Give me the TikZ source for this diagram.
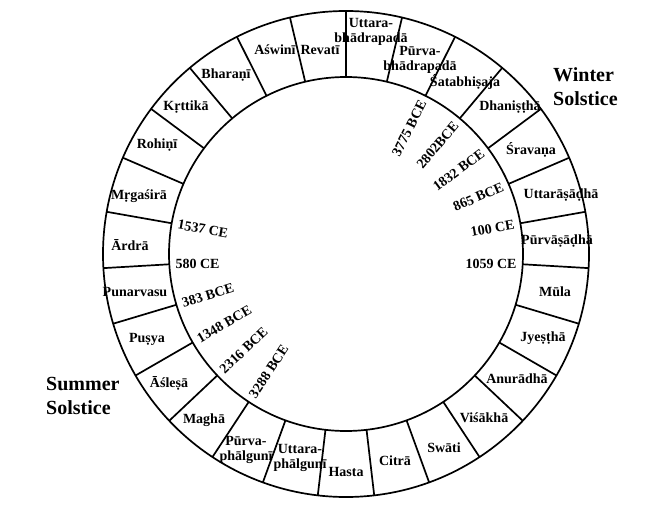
\documentclass[tikz,border=0pt]{standalone}
\usepackage{fontspec}
\setmainfont{Liberation Serif}
\usetikzlibrary{calc}
\begin{document}
\begin{tikzpicture}[x=1pt,y=-1pt,
  ring/.style={line width=1.7pt},
  spoke/.style={line width=1.7pt},
  nak/.style={inner sep=0pt,font=\bfseries\fontsize{14}{15}\selectfont,align=center},
  date/.style={inner sep=0pt,font=\bfseries\fontsize{14}{15}\selectfont},
  season/.style={inner sep=0pt,font=\bfseries\fontsize{20}{24}\selectfont,align=left,anchor=west}]
\useasboundingbox (0,0) rectangle (647,510);
\coordinate (C) at (346,254);
\draw[ring] (C) circle[radius=243pt];
\draw[ring] (C) circle[radius=177pt];
\foreach \k in {0,...,26}{
  \pgfmathsetmacro{\a}{90-\k*360/27}
  \coordinate (in\k) at ($(C)+(\a:177pt)$);
  \coordinate (out\k) at ($(C)+(\a:243pt)$);
  \draw[spoke] (in\k) -- (out\k);
}
% nakshatras
\node[nak] (n1) at (371,32) {Uttara-\\bhādrapadā};
\node[nak] (n2) at (420,60) {Pūrva-\\bhādrapadā};
\node[nak] (n3) at (465,82) {Śatabhiṣaja};
\node[nak] (n4) at (510,107) {Dhaniṣṭhā};
\node[nak] (n5) at (531,150) {Śravaṇa};
\node[nak] (n6) at (561,195) {Uttarāṣāḍhā};
\node[nak] (n7) at (557,241) {Pūrvāṣāḍhā};
\node[nak] (n8) at (555,292) {Mūla};
\node[nak] (n9) at (543,338) {Jyeṣṭhā};
\node[nak] (n10) at (517,379) {Anurādhā};
\node[nak] (n11) at (484,418) {Viśākhā};
\node[nak] (n12) at (444,448) {Swāti};
\node[nak] (n13) at (395,461) {Citrā};
\node[nak] (n14) at (346,472) {Hasta};
\node[nak] (n15) at (300,458) {Uttara-\\phālgunī};
\node[nak] (n16) at (246,450) {Pūrva-\\phālgunī};
\node[nak] (n17) at (204,420) {Maghā};
\node[nak] (n18) at (169,383) {Āśleṣā};
\node[nak] (n19) at (147,339) {Puṣya};
\node[nak] (n20) at (135,292) {Punarvasu};
\node[nak] (n21) at (130,245) {Ārdrā};
\node[nak] (n22) at (139,196) {Mṛgaśirā};
\node[nak] (n23) at (157,145) {Rohiṇī};
\node[nak] (n24) at (186,107) {Kṛttikā};
\node[nak] (n25) at (226,75) {Bharaṇī};
\node[nak] (n26) at (275,50) {Aświnī};
\node[nak] (n27) at (320,50) {Revatī};
% seasons
\node[season] (win) at (553,87) {Winter\\Solstice};
\node[season] (sum) at (46,396) {Summer\\Solstice};
% dates right
\node[date,anchor=east] (d1) at ($(C)+(-3.33:171pt)$) {1059 CE};
\node[date,anchor=east,rotate=10] (d2) at ($(C)+(10:171pt)$) {100 CE};
\node[date,anchor=east,rotate=23.33] (d3) at ($(C)+(23.33:171pt)$) {865 BCE};
\node[date,anchor=east,rotate=36.67] (d4) at ($(C)+(36.67:171pt)$) {1832 BCE};
\node[date,anchor=east,rotate=50] (d5) at ($(C)+(50:171pt)$) {2802BCE};
\node[date,anchor=east,rotate=63.33] (d6) at ($(C)+(63.33:171pt)$) {3775 BCE};
% dates left
\node[date,anchor=west,rotate=-10] (e1) at ($(C)+(170:171pt)$) {1537 CE};
\node[date,anchor=west] (e2) at ($(C)+(183.33:171pt)$) {580 CE};
\node[date,anchor=west,rotate=16.67] (e3) at ($(C)+(196.67:171pt)$) {383 BCE};
\node[date,anchor=west,rotate=30] (e4) at ($(C)+(210:171pt)$) {1348 BCE};
\node[date,anchor=west,rotate=43.33] (e5) at ($(C)+(223.33:171pt)$) {2316 BCE};
\node[date,anchor=west,rotate=56.67] (e6) at ($(C)+(236.67:171pt)$) {3288 BCE};
\end{tikzpicture}
\end{document}
